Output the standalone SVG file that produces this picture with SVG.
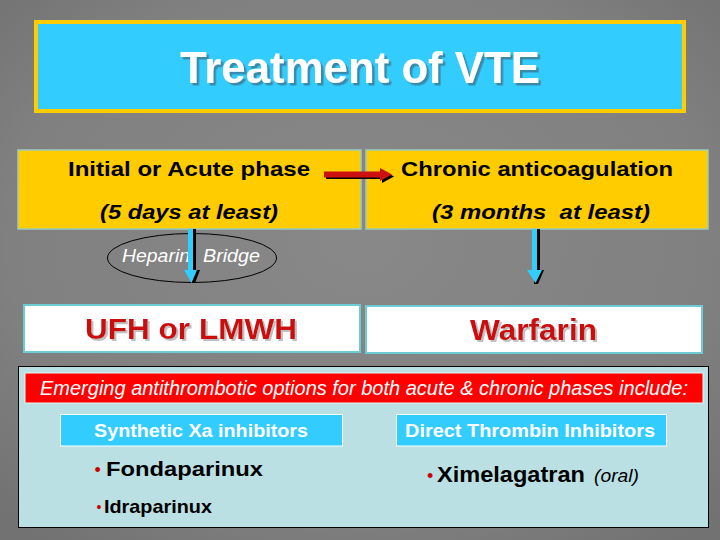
<svg xmlns="http://www.w3.org/2000/svg" width="720" height="540" viewBox="0 0 720 540">
  <style>
    .f { font-family: "Liberation Sans", Arial, sans-serif; }
    .b { font-weight: bold; }
    .i { font-style: italic; }
    .phase { fill: #FFCC00; stroke: #9CCBBE; stroke-width: 1.5; }
    .drug { fill: #FFFFFF; stroke: #6CCBD3; stroke-width: 2; }
    .sub { fill: #33CCFF; stroke: #FFFFFF; stroke-width: 1; }
    .bul { fill: #CC0000; }
  </style>
  <defs>
    <radialGradient id="bg" cx="50%" cy="45%" r="70%">
      <stop offset="0" stop-color="#888888"/>
      <stop offset="0.7" stop-color="#808080"/>
      <stop offset="1" stop-color="#727272"/>
    </radialGradient>
    <filter id="shDark" x="-5%" y="-20%" width="115%" height="150%">
      <feDropShadow dx="2.5" dy="2.5" stdDeviation="0.4" flood-color="#3a5f70" flood-opacity="0.6"/>
    </filter>
    <filter id="shLight" x="-5%" y="-20%" width="115%" height="150%">
      <feDropShadow dx="2" dy="2" stdDeviation="0.3" flood-color="#C0C0C0" flood-opacity="1"/>
    </filter>
  </defs>
  <rect x="0" y="0" width="720" height="540" fill="url(#bg)"/>

  <g id="title">
    <rect x="36" y="22" width="648" height="89" fill="#33CCFF" stroke="#FFCC00" stroke-width="4"/>
    <text class="f b" x="360" y="83" font-size="44" text-anchor="middle" textLength="360" lengthAdjust="spacingAndGlyphs" fill="#FFFFFF" filter="url(#shDark)">Treatment of VTE</text>
  </g>

  <g id="acute">
    <rect class="phase" x="18" y="150" width="343" height="79"/>
    <text class="f b" x="189" y="176" font-size="21" text-anchor="middle" textLength="242" lengthAdjust="spacingAndGlyphs" fill="#000">Initial or Acute phase</text>
    <text class="f b i" x="189" y="219" font-size="21" text-anchor="middle" textLength="178" lengthAdjust="spacingAndGlyphs" fill="#000">(5 days at least)</text>
  </g>

  <g id="chronic">
    <rect class="phase" x="366" y="150" width="342" height="79"/>
    <text class="f b" x="537" y="176" font-size="21" text-anchor="middle" textLength="272" lengthAdjust="spacingAndGlyphs" fill="#000">Chronic anticoagulation</text>
    <text class="f b i" x="541" y="219" font-size="21" text-anchor="middle" textLength="218" lengthAdjust="spacingAndGlyphs" fill="#000">(3 months&#160; at least)</text>
  </g>

  <g id="heparin-bridge">
    <ellipse cx="192" cy="258" rx="84.5" ry="24.5" fill="none" stroke="#000" stroke-width="1"/>
    <text class="f i" x="122" y="262" font-size="19" textLength="68" lengthAdjust="spacingAndGlyphs" fill="#FFFFFF">Heparin</text>
    <text class="f i" x="203" y="262" font-size="19" textLength="57" lengthAdjust="spacingAndGlyphs" fill="#FFFFFF">Bridge</text>
  </g>

  <g id="ufh">
    <rect class="drug" x="24" y="305" width="336" height="47"/>
    <text class="f b" x="191" y="339" font-size="30" text-anchor="middle" textLength="212" lengthAdjust="spacingAndGlyphs" fill="#CC1111" filter="url(#shLight)">UFH or LMWH</text>
  </g>

  <g id="warfarin">
    <rect class="drug" x="366" y="306" width="336" height="47"/>
    <text class="f b" x="533.5" y="340" font-size="30" text-anchor="middle" textLength="127" lengthAdjust="spacingAndGlyphs" fill="#CC1111" filter="url(#shLight)">Warfarin</text>
  </g>

  <g id="connectors">
    <polygon points="326,174 382,174 382,170 394,176.5 382,183 382,179 326,179" fill="#000"/>
    <polygon points="324,171.5 380,171.5 380,168 392,174.5 380,181 380,177.5 324,177.5" fill="#CC1111"/>
    <polygon points="191,229 196,229 196,270 200,270 195,283 191,283" fill="#000"/>
    <polygon points="188,229 193,229 193,270 197,270 191.5,283 184,270 188,270" fill="#33CCFF"/>
    <polygon points="535,229 540,229 540,270 544,270 538,284 534,284" fill="#000"/>
    <polygon points="532,229 537,229 537,270 542,270 535.5,283 527,270 532,270" fill="#33CCFF"/>
  </g>

  <g id="emerging">
    <rect x="18.5" y="366.5" width="690" height="161" fill="#BBE0E3" stroke="#000" stroke-width="1"/>
    <rect x="25" y="373" width="678" height="30" fill="#FF0000" stroke="#E8F4F4" stroke-width="1"/>
    <text class="f i" x="364" y="395" font-size="20" text-anchor="middle" textLength="648" lengthAdjust="spacingAndGlyphs" fill="#FFFFFF">Emerging antithrombotic options for both acute &amp; chronic phases include:</text>
  </g>

  <g id="xa-inhibitors">
    <rect class="sub" x="60.5" y="414.5" width="282" height="31.5"/>
    <text class="f b" x="201" y="437" font-size="19" text-anchor="middle" textLength="214" lengthAdjust="spacingAndGlyphs" fill="#FFFFFF">Synthetic Xa inhibitors</text>
    <text class="f bul" x="94.5" y="475.5" font-size="18">•</text>
    <text class="f b" x="106" y="476" font-size="21" textLength="157" lengthAdjust="spacingAndGlyphs" fill="#000">Fondaparinux</text>
    <text class="f bul" x="96.5" y="511.7" font-size="14">•</text>
    <text class="f b" x="104" y="513" font-size="19" textLength="108" lengthAdjust="spacingAndGlyphs" fill="#000">Idraparinux</text>
  </g>

  <g id="thrombin-inhibitors">
    <rect class="sub" x="396.5" y="414.5" width="270" height="31.5"/>
    <text class="f b" x="530" y="437" font-size="19" text-anchor="middle" textLength="250" lengthAdjust="spacingAndGlyphs" fill="#FFFFFF">Direct Thrombin Inhibitors</text>
    <text class="f bul" x="427" y="481.5" font-size="18">•</text>
    <text class="f b" x="437" y="482" font-size="22" textLength="148" lengthAdjust="spacingAndGlyphs" fill="#000">Ximelagatran</text>
    <text class="f i" x="594" y="482" font-size="19" textLength="45" lengthAdjust="spacingAndGlyphs" fill="#000">(oral)</text>
  </g>
</svg>
